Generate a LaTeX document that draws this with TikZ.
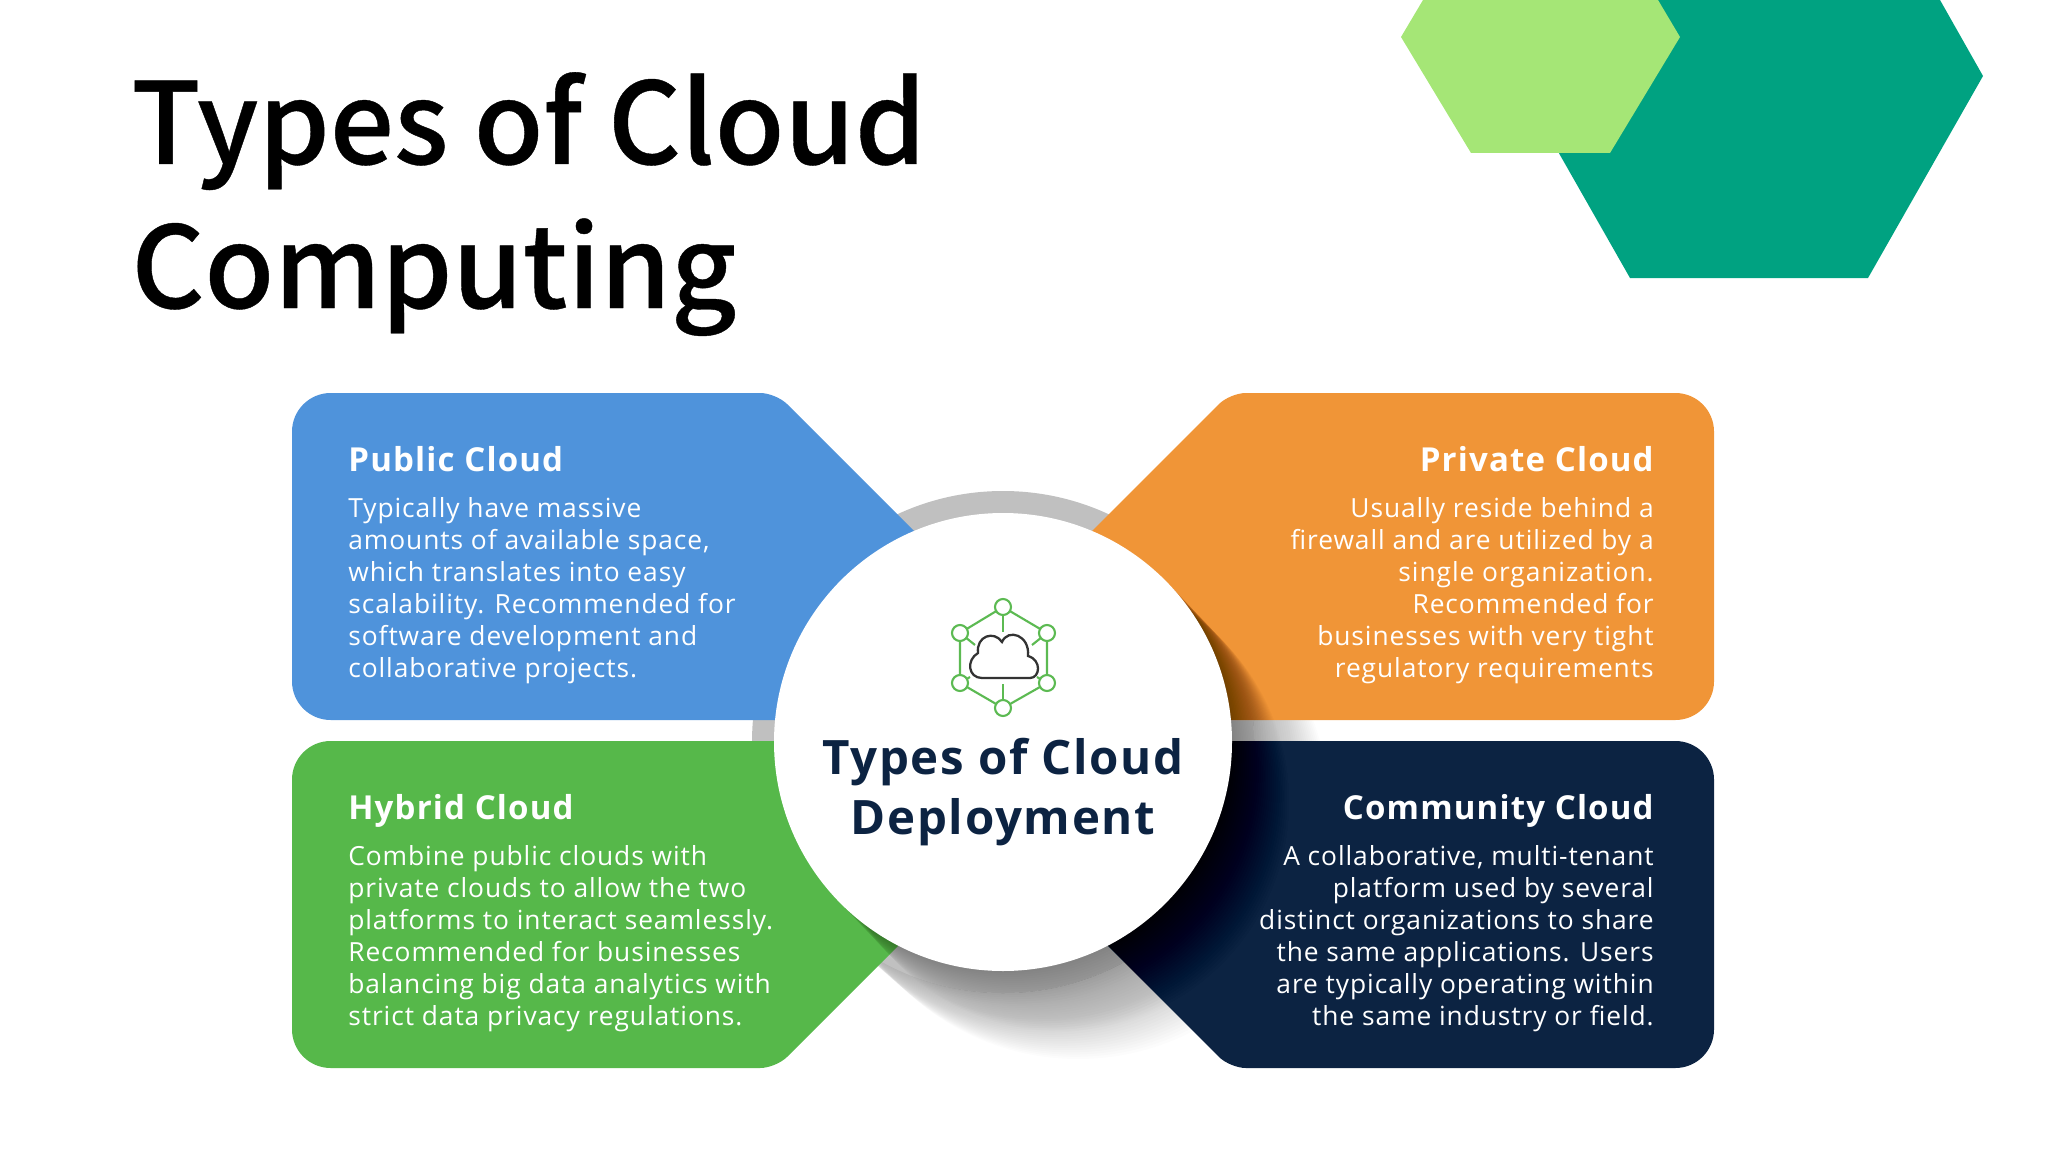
\documentclass[tikz,border=0pt]{standalone}
\usepackage{fontspec}
\setmainfont{Open Sans}[LetterSpace=3.5]
\newfontfamily\titlefont[FakeBold=0.35]{Noto Sans CJK SC Medium}
\usepackage{tikz}
\definecolor{hexdark}{HTML}{00A281}
\definecolor{hexlight}{HTML}{A5E676}
\definecolor{cardblue}{HTML}{4F93DB}
\definecolor{cardorange}{HTML}{F09537}
\definecolor{cardgreen}{HTML}{56B84A}
\definecolor{cardnavy}{HTML}{0C2342}
\definecolor{ringgray}{HTML}{C0C0C0}
\definecolor{icongreen}{HTML}{5CBA52}
\tikzset{
    card/.style={rounded corners=22pt},
    titletext/.style={anchor=base west,inner sep=0pt,font=\titlefont\fontsize{64.5}{81}\selectfont},
    headtext/.style={text=white,inner sep=0pt,font=\fontsize{18.8}{18}\selectfont\bfseries},
    bodyleft/.style={text=white,inner sep=0pt,align=left,anchor=north west,font=\fontsize{15}{18.2}\selectfont},
    bodyright/.style={text=white,inner sep=0pt,align=right,anchor=north east,font=\fontsize{15}{18.2}\selectfont},
    hubdot/.style={draw=icongreen,line width=1.2pt,fill=white},
    hubline/.style={draw=icongreen,line width=1.2pt}
}
\begin{document}
\begin{tikzpicture}[x=0.02cm,y=-0.02cm]
    \useasboundingbox (0,0) rectangle (2048,1152);
    % corner hexagons
    \fill[hexdark] (1515,76) -- (1630,278) -- (1868,278) -- (1983,76) -- (1940,0) -- (1558,0) -- cycle;
    \fill[hexlight] (1401,37) -- (1471,153) -- (1610,153) -- (1680,37) -- (1658,0) -- (1423,0) -- cycle;

    \node[titletext] (title1) at (131,164) {Types of Cloud};
    \node[titletext] (title2) at (131,308) {Computing};

    % ring and its shadow
    \foreach \i in {1,...,30} {\fill[black,opacity=0.012] ({1003+\i*2.5},{742+\i*2.2}) circle (251);}
    \fill[ringgray] (1003,742) circle (251);

    % four cards
    \fill[cardblue,card] (292,560) -- (292,393) [rounded corners=9pt] -- (776,393) -- (953,570) -- (953,720) [rounded corners=22pt] -- (292,720) -- cycle;
    \fill[cardorange,card] (1714,560) -- (1714,393) [rounded corners=9pt] -- (1230,393) -- (1053,570) -- (1053,720) [rounded corners=22pt] -- (1714,720) -- cycle;
    \fill[cardgreen,card] (292,900) -- (292,1068) [rounded corners=9pt] -- (776,1068) -- (953,891) -- (953,741) [rounded corners=22pt] -- (292,741) -- cycle;
    \fill[cardnavy,card] (1714,900) -- (1714,1068) [rounded corners=9pt] -- (1230,1068) -- (1053,891) -- (1053,741) [rounded corners=22pt] -- (1714,741) -- cycle;

    % shadow of the disc, then the disc
    \foreach \i in {1,...,30} {\fill[black,opacity=0.006] ({1003+\i*1.9},{742+\i*2}) circle (229);}
    \begin{scope}
        \clip (1000,393) rectangle (1714,720) (1230,1068) -- (1053,891) -- (1053,741) -- (1714,741) -- (1714,1068) -- cycle;
        \foreach \i in {1,...,30} {\fill[black,opacity=0.012] ({1003+\i*1.9},{742+\i*2}) circle (229);}
    \end{scope}
    \fill[white] (1003,742) circle (229);

    \node[headtext,anchor=base west] (pubhead) at (348,471) {Public Cloud};
    \node[bodyleft] (pubbody) at (348,497) {Typically have massive\\amounts of available space,\\which translates into easy\\scalability. Recommended for\\software development and\\collaborative projects.};
    \node[headtext,anchor=base east] (privhead) at (1654,471) {Private Cloud};
    \node[bodyright] (privbody) at (1654,497) {Usually reside behind a\\firewall and are utilized by a\\single organization.\\Recommended for\\businesses with very tight\\regulatory requirements};
    \node[headtext,anchor=base west] (hybhead) at (348,819) {Hybrid Cloud};
    \node[bodyleft] (hybbody) at (348,845) {Combine public clouds with\\private clouds to allow the two\\platforms to interact seamlessly.\\Recommended for businesses\\balancing big data analytics with\\strict data privacy regulations.};
    \node[headtext,anchor=base east] (comhead) at (1654,819) {Community Cloud};
    \node[bodyright] (combody) at (1654,845) {A collaborative, multi-tenant\\platform used by several\\distinct organizations to share\\the same applications. Users\\are typically operating within\\the same industry or field.};

    \node[text=cardnavy,inner sep=0pt,align=center,font=\fontsize{27}{34}\selectfont\bfseries] (hubtext) at (1003,792) {Types of Cloud\\Deployment};

    % cloud icon
    \draw[hubline] (1003,607) -- (1047,633) -- (1047,683) -- (1003,708) -- (960,683) -- (960,633) -- cycle;
    \foreach \a/\b/\c/\d in {1003/607/1003/632,1003/708/1003/684,960/633/975/645,1047/633/1032/645,960/683/970/677,1047/683/1037/677} {\draw[hubline] (\a,\b) -- (\c,\d);}
    \foreach \a/\b in {1003/607,1047/633,1047/683,1003/708,960/683,960/633} {\filldraw[hubdot] (\a,\b) circle (8);}
    \draw[black!80,line width=1.3pt,fill=white] (982,678) -- (1030,678) .. controls (1040,678) and (1042,660) .. (1028,656) .. controls (1030,635) and (1008,628) .. (1002,642) .. controls (994,630) and (976,636) .. (978,653) .. controls (966,660) and (968,678) .. (982,678) -- cycle;
\end{tikzpicture}
\end{document}
